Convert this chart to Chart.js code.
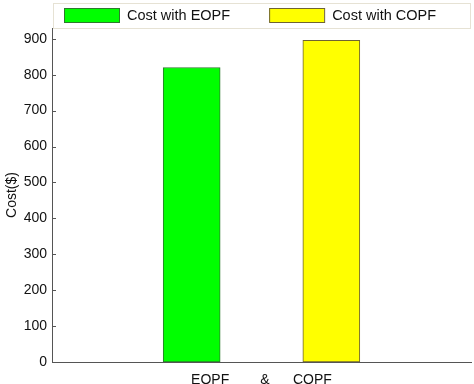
<!DOCTYPE html>
<html>
<head>
<meta charset="utf-8">
<script src="https://cdn.jsdelivr.net/npm/chart.js@4"></script>
<style>
  html, body { margin: 0; padding: 0; background: #fff; }
  canvas { display: block; }
</style>
</head>
<body>
<canvas id="costChart" width="474" height="384"></canvas>
<script>
// data
const methods = ['EOPF', 'COPF'];
const legendLabels = ['Cost with EOPF', 'Cost with COPF'];
const barX = [1, 2];          // bar locations on the x axis (xlim 0..3)
const costs = [820, 896];
const yTicks = [0, 100, 200, 300, 400, 500, 600, 700, 800, 900];
const fillColors = ['#00ff00', '#ffff00'];
const edgeColors = ['#2d7a2d', '#6f6332'];

const axisColor = '#555';
const fontFamily = '"Liberation Sans", Arial, Helvetica, sans-serif';

// inward tick marks on the y axis (matlab style)
const innerTicks = {
  id: 'innerTicks',
  afterDatasetsDraw(chart) {
    const ctx = chart.ctx;
    const y = chart.scales.y;
    ctx.save();
    ctx.strokeStyle = axisColor;
    ctx.lineWidth = 1;
    yTicks.forEach(v => {
      const py = Math.round(y.getPixelForValue(v)) + 0.5;
      ctx.beginPath();
      ctx.moveTo(y.right, py);
      ctx.lineTo(y.right + 4, py);
      ctx.stroke();
    });
    ctx.restore();
  }
};

// boxed legend at the top
const boxLegend = {
  id: 'boxLegend',
  afterDraw(chart) {
    const ctx = chart.ctx;
    const area = chart.chartArea;
    ctx.save();
    ctx.fillStyle = '#fff';
    ctx.strokeStyle = '#e6e2d4';
    ctx.lineWidth = 1;
    ctx.fillRect(area.left + 1, 3, area.right - area.left - 1, 25);
    ctx.strokeRect(area.left + 1.5, 3.5, area.right - area.left - 2, 25);
    ctx.font = '14.5px ' + fontFamily;
    ctx.textBaseline = 'middle';
    let x = 64;
    chart.data.datasets.forEach(ds => {
      ctx.fillStyle = ds.backgroundColor;
      ctx.fillRect(x, 8, 55, 14);
      ctx.strokeStyle = ds.borderColor;
      ctx.strokeRect(x + 0.5, 8.5, 55, 14);
      ctx.fillStyle = '#111';
      ctx.fillText(ds.label, x + 63, 16);
      x += 63 + ctx.measureText(ds.label).width + 39;
    });
    ctx.restore();
  }
};

const datasets = methods.map((m, i) => ({
  label: legendLabels[i],
  data: [{ x: barX[i], y: costs[i] }],
  backgroundColor: fillColors[i],
  borderColor: edgeColors[i],
  borderWidth: 1,
  borderSkipped: false,
  barThickness: 57,
  grouped: false
}));

new Chart(document.getElementById('costChart'), {
  type: 'bar',
  data: { datasets: datasets },
  options: {
    responsive: false,
    animation: false,
    layout: { padding: { left: 0, right: 3, top: 28, bottom: 0 } },
    plugins: {
      legend: { display: false },
      tooltip: { enabled: false }
    },
    scales: {
      x: {
        type: 'linear',
        min: 0,
        max: 3,
        offset: false,
        grid: { display: false },
        border: { display: true, color: axisColor, width: 1 },
        ticks: { display: false },
        title: {
          display: true,
          text: methods[0] + '        &      ' + methods[1],
          color: '#111',
          font: { family: fontFamily, size: 14, lineHeight: 1 },
          padding: { top: 0, bottom: -3 }
        },
        afterFit(s) { s.height = 22; }
      },
      y: {
        min: 0,
        max: 930,
        grid: { display: false, drawTicks: false },
        border: { display: true, color: axisColor, width: 1 },
        ticks: {
          stepSize: 100,
          padding: 5,
          color: '#111',
          font: { family: fontFamily, size: 14 }
        },
        afterBuildTicks(s) {
          s.ticks = yTicks.map(v => ({ value: v }));
        },
        title: {
          display: true,
          text: 'Cost($)',
          color: '#111',
          font: { family: fontFamily, size: 14 },
          padding: { top: 4, bottom: 4 }
        },
        afterFit(s) { s.width = 52; }
      }
    }
  },
  plugins: [innerTicks, boxLegend]
});
</script>
</body>
</html>
